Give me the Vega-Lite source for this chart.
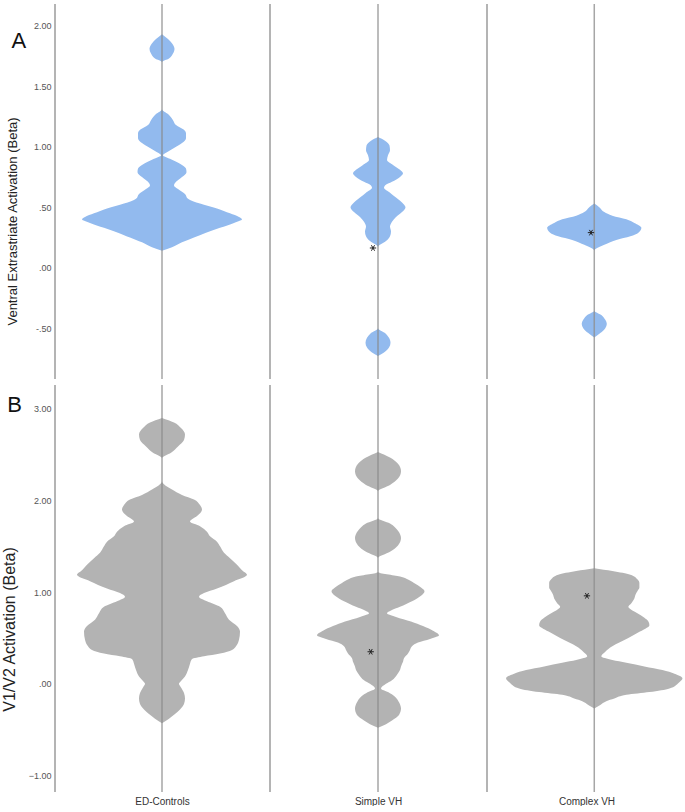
{
  "$schema": "https://vega.github.io/schema/vega-lite/v6.json",
  "padding": {"left": 1, "top": 3, "right": 0, "bottom": 0},
  "background": "white",
  "config": {
    "view": {"stroke": null},
    "font": "Liberation Sans",
    "axis": {"labelFont": "Liberation Sans", "labelFontSize": 9, "labelColor": "#555", "titleFont": "Liberation Sans", "titleFontSize": 12, "titleFontWeight": "normal", "titleColor": "#222", "grid": false, "ticks": false, "domain": false},
    "title": {"font": "Liberation Sans", "fontSize": 22, "fontWeight": "normal", "color": "#111"}
  },
  "datasets": {
    "aED": [
      {"beta": 1.93, "density": 0}, {"beta": 1.89, "density": 0.06}, {"beta": 1.85, "density": 0.105}, {"beta": 1.81, "density": 0.125}, {"beta": 1.77, "density": 0.11}, {"beta": 1.73, "density": 0.07}, {"beta": 1.70, "density": 0},
      {"beta": 1.31, "density": 0}, {"beta": 1.27, "density": 0.06}, {"beta": 1.22, "density": 0.11}, {"beta": 1.18, "density": 0.14}, {"beta": 1.14, "density": 0.22}, {"beta": 1.11, "density": 0.24}, {"beta": 1.07, "density": 0.24}, {"beta": 1.03, "density": 0.20}, {"beta": 0.99, "density": 0.12}, {"beta": 0.95, "density": 0.04}, {"beta": 0.93, "density": 0.01},
      {"beta": 0.90, "density": 0.08}, {"beta": 0.86, "density": 0.18}, {"beta": 0.82, "density": 0.24}, {"beta": 0.79, "density": 0.245}, {"beta": 0.75, "density": 0.20}, {"beta": 0.71, "density": 0.14}, {"beta": 0.68, "density": 0.12}, {"beta": 0.65, "density": 0.16}, {"beta": 0.61, "density": 0.23}, {"beta": 0.57, "density": 0.26}, {"beta": 0.53, "density": 0.38}, {"beta": 0.49, "density": 0.55}, {"beta": 0.45, "density": 0.68}, {"beta": 0.42, "density": 0.77}, {"beta": 0.40, "density": 0.80}, {"beta": 0.37, "density": 0.72}, {"beta": 0.33, "density": 0.58}, {"beta": 0.29, "density": 0.44}, {"beta": 0.25, "density": 0.32}, {"beta": 0.21, "density": 0.20}, {"beta": 0.17, "density": 0.10}, {"beta": 0.14, "density": 0}
    ],
    "aSimple": [
      {"beta": 1.08, "density": 0}, {"beta": 1.05, "density": 0.07}, {"beta": 1.01, "density": 0.115}, {"beta": 0.97, "density": 0.12}, {"beta": 0.93, "density": 0.10}, {"beta": 0.89, "density": 0.09}, {"beta": 0.85, "density": 0.15}, {"beta": 0.81, "density": 0.22}, {"beta": 0.78, "density": 0.25}, {"beta": 0.75, "density": 0.22}, {"beta": 0.71, "density": 0.14}, {"beta": 0.68, "density": 0.07}, {"beta": 0.66, "density": 0.06},
      {"beta": 0.62, "density": 0.12}, {"beta": 0.58, "density": 0.18}, {"beta": 0.54, "density": 0.24}, {"beta": 0.50, "density": 0.275}, {"beta": 0.46, "density": 0.24}, {"beta": 0.42, "density": 0.18}, {"beta": 0.38, "density": 0.14}, {"beta": 0.34, "density": 0.12}, {"beta": 0.30, "density": 0.13}, {"beta": 0.26, "density": 0.12}, {"beta": 0.22, "density": 0.08}, {"beta": 0.17, "density": 0},
      {"beta": -0.50, "density": 0}, {"beta": -0.54, "density": 0.07}, {"beta": -0.58, "density": 0.11}, {"beta": -0.62, "density": 0.125}, {"beta": -0.66, "density": 0.11}, {"beta": -0.70, "density": 0.06}, {"beta": -0.73, "density": 0}
    ],
    "aComplex": [
      {"beta": 0.53, "density": 0}, {"beta": 0.50, "density": 0.05}, {"beta": 0.46, "density": 0.10}, {"beta": 0.43, "density": 0.18}, {"beta": 0.40, "density": 0.32}, {"beta": 0.37, "density": 0.40}, {"beta": 0.33, "density": 0.47}, {"beta": 0.29, "density": 0.44}, {"beta": 0.26, "density": 0.36}, {"beta": 0.23, "density": 0.22}, {"beta": 0.19, "density": 0.10}, {"beta": 0.14, "density": 0},
      {"beta": -0.355, "density": 0}, {"beta": -0.39, "density": 0.07}, {"beta": -0.43, "density": 0.11}, {"beta": -0.465, "density": 0.125}, {"beta": -0.50, "density": 0.11}, {"beta": -0.54, "density": 0.06}, {"beta": -0.576, "density": 0}
    ],
    "bED": [
      {"beta": 2.90, "density": 0}, {"beta": 2.85, "density": 0.12}, {"beta": 2.79, "density": 0.19}, {"beta": 2.72, "density": 0.23}, {"beta": 2.66, "density": 0.22}, {"beta": 2.59, "density": 0.16}, {"beta": 2.52, "density": 0.09}, {"beta": 2.46, "density": 0},
      {"beta": 2.21, "density": 0}, {"beta": 2.12, "density": 0.10}, {"beta": 2.06, "density": 0.20}, {"beta": 2.01, "density": 0.32}, {"beta": 1.95, "density": 0.38}, {"beta": 1.90, "density": 0.40}, {"beta": 1.83, "density": 0.35}, {"beta": 1.77, "density": 0.28}, {"beta": 1.72, "density": 0.38}, {"beta": 1.66, "density": 0.45}, {"beta": 1.61, "density": 0.48}, {"beta": 1.55, "density": 0.55}, {"beta": 1.50, "density": 0.58}, {"beta": 1.43, "density": 0.62}, {"beta": 1.37, "density": 0.68}, {"beta": 1.30, "density": 0.75}, {"beta": 1.24, "density": 0.80}, {"beta": 1.19, "density": 0.85}, {"beta": 1.12, "density": 0.72}, {"beta": 1.04, "density": 0.55}, {"beta": 0.99, "density": 0.42}, {"beta": 0.95, "density": 0.37},
      {"beta": 0.90, "density": 0.45}, {"beta": 0.84, "density": 0.58}, {"beta": 0.77, "density": 0.63}, {"beta": 0.70, "density": 0.67}, {"beta": 0.63, "density": 0.75}, {"beta": 0.57, "density": 0.78}, {"beta": 0.48, "density": 0.77}, {"beta": 0.41, "density": 0.74}, {"beta": 0.37, "density": 0.70}, {"beta": 0.33, "density": 0.58}, {"beta": 0.30, "density": 0.42}, {"beta": 0.27, "density": 0.30}, {"beta": 0.22, "density": 0.28}, {"beta": 0.15, "density": 0.26}, {"beta": 0.08, "density": 0.23}, {"beta": 0.03, "density": 0.19}, {"beta": 0.00, "density": 0.17}, {"beta": -0.04, "density": 0.19}, {"beta": -0.10, "density": 0.22}, {"beta": -0.16, "density": 0.23}, {"beta": -0.22, "density": 0.22}, {"beta": -0.28, "density": 0.18}, {"beta": -0.33, "density": 0.13}, {"beta": -0.38, "density": 0.07}, {"beta": -0.43, "density": 0}
    ],
    "bSimple": [
      {"beta": 2.53, "density": 0}, {"beta": 2.47, "density": 0.12}, {"beta": 2.40, "density": 0.20}, {"beta": 2.32, "density": 0.23}, {"beta": 2.24, "density": 0.20}, {"beta": 2.17, "density": 0.12}, {"beta": 2.10, "density": 0},
      {"beta": 1.81, "density": 0}, {"beta": 1.75, "density": 0.12}, {"beta": 1.67, "density": 0.20}, {"beta": 1.59, "density": 0.23}, {"beta": 1.51, "density": 0.20}, {"beta": 1.44, "density": 0.12}, {"beta": 1.37, "density": 0},
      {"beta": 1.22, "density": 0}, {"beta": 1.17, "density": 0.22}, {"beta": 1.10, "density": 0.36}, {"beta": 1.05, "density": 0.43}, {"beta": 1.01, "density": 0.465}, {"beta": 0.96, "density": 0.43}, {"beta": 0.90, "density": 0.34}, {"beta": 0.84, "density": 0.22}, {"beta": 0.80, "density": 0.13}, {"beta": 0.77, "density": 0.09},
      {"beta": 0.73, "density": 0.18}, {"beta": 0.68, "density": 0.33}, {"beta": 0.63, "density": 0.45}, {"beta": 0.58, "density": 0.55}, {"beta": 0.53, "density": 0.61}, {"beta": 0.49, "density": 0.52}, {"beta": 0.45, "density": 0.40}, {"beta": 0.41, "density": 0.34}, {"beta": 0.37, "density": 0.32}, {"beta": 0.33, "density": 0.30}, {"beta": 0.28, "density": 0.26}, {"beta": 0.24, "density": 0.25}, {"beta": 0.19, "density": 0.23}, {"beta": 0.15, "density": 0.22}, {"beta": 0.10, "density": 0.19}, {"beta": 0.04, "density": 0.14}, {"beta": 0.00, "density": 0.08}, {"beta": -0.05, "density": 0.03},
      {"beta": -0.09, "density": 0.10}, {"beta": -0.14, "density": 0.17}, {"beta": -0.20, "density": 0.21}, {"beta": -0.27, "density": 0.23}, {"beta": -0.34, "density": 0.21}, {"beta": -0.40, "density": 0.14}, {"beta": -0.44, "density": 0.08}, {"beta": -0.48, "density": 0}
    ],
    "bComplex": [
      {"beta": 1.26, "density": 0}, {"beta": 1.23, "density": 0.18}, {"beta": 1.19, "density": 0.36}, {"beta": 1.14, "density": 0.43}, {"beta": 1.10, "density": 0.45}, {"beta": 1.05, "density": 0.45}, {"beta": 1.01, "density": 0.43}, {"beta": 0.97, "density": 0.41}, {"beta": 0.93, "density": 0.40}, {"beta": 0.88, "density": 0.37}, {"beta": 0.84, "density": 0.34}, {"beta": 0.80, "density": 0.38}, {"beta": 0.77, "density": 0.43}, {"beta": 0.72, "density": 0.50}, {"beta": 0.68, "density": 0.54}, {"beta": 0.64, "density": 0.55}, {"beta": 0.59, "density": 0.49}, {"beta": 0.55, "density": 0.42}, {"beta": 0.50, "density": 0.34}, {"beta": 0.45, "density": 0.25}, {"beta": 0.41, "density": 0.18}, {"beta": 0.35, "density": 0.11}, {"beta": 0.30, "density": 0.07},
      {"beta": 0.26, "density": 0.18}, {"beta": 0.23, "density": 0.32}, {"beta": 0.19, "density": 0.50}, {"beta": 0.15, "density": 0.68}, {"beta": 0.11, "density": 0.80}, {"beta": 0.06, "density": 0.88}, {"beta": 0.01, "density": 0.84}, {"beta": -0.05, "density": 0.75}, {"beta": -0.09, "density": 0.55}, {"beta": -0.12, "density": 0.32}, {"beta": -0.16, "density": 0.20}, {"beta": -0.19, "density": 0.12}, {"beta": -0.23, "density": 0.06}, {"beta": -0.27, "density": 0}
    ]
  },
  "vconcat": [
    {
      "title": {"text": "A", "anchor": "start", "frame": "bounds", "dx": 5, "dy": 50, "offset": 0},
      "spacing": 0,
      "hconcat": [
        {
          "width": 214, "height": 375,
          "layer": [
            {"data": {"name": "aED"}, "mark": {"type": "area", "orient": "horizontal", "interpolate": "monotone", "color": "#92baee"},
             "encoding": {"y": {"field": "beta", "type": "quantitative", "scale": {"domain": [-0.92, 2.18], "nice": false, "zero": false}, "axis": {"title": "Ventral Extrastriate Activation (Beta)", "values": [2, 1.5, 1, 0.5, 0, -0.5], "labelExpr": "datum.value == 0 ? '.00' : datum.value == 0.5 ? '.50' : datum.value == -0.5 ? '-.50' : format(datum.value, '.2f')", "labelPadding": 4, "titlePadding": 14, "titleFontSize": 13, "titleY": 217}},
                          "x": {"field": "density", "type": "quantitative", "scale": {"domain": [-1.07, 1.07]}, "axis": null}, "x2": {"datum": 0}}},
            {"data": {"name": "aED"}, "mark": {"type": "area", "orient": "horizontal", "interpolate": "monotone", "color": "#92baee"},
             "encoding": {"y": {"field": "beta", "type": "quantitative", "scale": {"domain": [-0.92, 2.18], "nice": false, "zero": false}, "axis": {"title": "Ventral Extrastriate Activation (Beta)", "values": [2, 1.5, 1, 0.5, 0, -0.5], "labelExpr": "datum.value == 0 ? '.00' : datum.value == 0.5 ? '.50' : datum.value == -0.5 ? '-.50' : format(datum.value, '.2f')", "labelPadding": 4, "titlePadding": 14, "titleFontSize": 13, "titleY": 217}},
                          "x": {"field": "density", "type": "quantitative", "scale": {"domain": [-1.07, 1.07], "reverse": true}, "axis": null}, "x2": {"datum": 0}}},
            {"data": {"values": [{}]}, "mark": {"type": "rule", "color": "#b4b4b4", "strokeWidth": 2}, "encoding": {"x": {"datum": -1.07, "type": "quantitative", "scale": {"domain": [-1.07, 1.07]}, "axis": null}}},
            {"data": {"values": [{}]}, "mark": {"type": "rule", "color": "#888888", "strokeWidth": 1.5, "opacity": 0.75}, "encoding": {"x": {"datum": 0, "type": "quantitative", "scale": {"domain": [-1.07, 1.07]}, "axis": null}}}
          ],
          "resolve": {"scale": {"x": "independent"}}
        },
        {
          "width": 216, "height": 375,
          "layer": [
            {"data": {"name": "aSimple"}, "mark": {"type": "area", "orient": "horizontal", "interpolate": "monotone", "color": "#92baee"},
             "encoding": {"y": {"field": "beta", "type": "quantitative", "scale": {"domain": [-0.92, 2.18], "nice": false, "zero": false}, "axis": null},
                          "x": {"field": "density", "type": "quantitative", "scale": {"domain": [-1.08, 1.08]}, "axis": null}, "x2": {"datum": 0}}},
            {"data": {"name": "aSimple"}, "mark": {"type": "area", "orient": "horizontal", "interpolate": "monotone", "color": "#92baee"},
             "encoding": {"y": {"field": "beta", "type": "quantitative", "scale": {"domain": [-0.92, 2.18], "nice": false, "zero": false}, "axis": null},
                          "x": {"field": "density", "type": "quantitative", "scale": {"domain": [-1.08, 1.08], "reverse": true}, "axis": null}, "x2": {"datum": 0}}},
            {"data": {"values": [{}]}, "mark": {"type": "rule", "color": "#b4b4b4", "strokeWidth": 2}, "encoding": {"x": {"datum": -1.08, "type": "quantitative", "scale": {"domain": [-1.08, 1.08]}, "axis": null}}},
            {"data": {"values": [{}]}, "mark": {"type": "rule", "color": "#888888", "strokeWidth": 1.5, "opacity": 0.75}, "encoding": {"x": {"datum": 0, "type": "quantitative", "scale": {"domain": [-1.08, 1.08]}, "axis": null}}},
            {"data": {"values": [{"beta": 0.163, "jitter": -0.05}]}, "mark": {"type": "point", "shape": "M-1,0L1,0M-0.5,-0.87L0.5,0.87M-0.5,0.87L0.5,-0.87", "filled": false, "stroke": "#222", "strokeWidth": 1, "size": 40, "opacity": 1},
             "encoding": {"y": {"field": "beta", "type": "quantitative", "scale": {"domain": [-0.92, 2.18], "nice": false, "zero": false}, "axis": null},
                          "x": {"field": "jitter", "type": "quantitative", "scale": {"domain": [-1.08, 1.08]}, "axis": null}}}
          ],
          "resolve": {"scale": {"x": "independent"}}
        },
        {
          "width": 199, "height": 375,
          "layer": [
            {"data": {"name": "aComplex"}, "mark": {"type": "area", "orient": "horizontal", "interpolate": "monotone", "color": "#92baee"},
             "encoding": {"y": {"field": "beta", "type": "quantitative", "scale": {"domain": [-0.92, 2.18], "nice": false, "zero": false}, "axis": null},
                          "x": {"field": "density", "type": "quantitative", "scale": {"domain": [-1.07, 0.915]}, "axis": null}, "x2": {"datum": 0}}},
            {"data": {"name": "aComplex"}, "mark": {"type": "area", "orient": "horizontal", "interpolate": "monotone", "color": "#92baee"},
             "encoding": {"y": {"field": "beta", "type": "quantitative", "scale": {"domain": [-0.92, 2.18], "nice": false, "zero": false}, "axis": null},
                          "x": {"field": "density", "type": "quantitative", "scale": {"domain": [-0.915, 1.07], "reverse": true}, "axis": null}, "x2": {"datum": 0}}},
            {"data": {"values": [{}]}, "mark": {"type": "rule", "color": "#b4b4b4", "strokeWidth": 2}, "encoding": {"x": {"datum": -1.07, "type": "quantitative", "scale": {"domain": [-1.07, 0.915]}, "axis": null}}},
            {"data": {"values": [{}]}, "mark": {"type": "rule", "color": "#888888", "strokeWidth": 1.5, "opacity": 0.75}, "encoding": {"x": {"datum": 0, "type": "quantitative", "scale": {"domain": [-1.07, 0.915]}, "axis": null}}},
            {"data": {"values": [{"beta": 0.29, "jitter": -0.033}]}, "mark": {"type": "point", "shape": "M-1,0L1,0M-0.5,-0.87L0.5,0.87M-0.5,0.87L0.5,-0.87", "filled": false, "stroke": "#222", "strokeWidth": 1, "size": 40, "opacity": 1},
             "encoding": {"y": {"field": "beta", "type": "quantitative", "scale": {"domain": [-0.92, 2.18], "nice": false, "zero": false}, "axis": null},
                          "x": {"field": "jitter", "type": "quantitative", "scale": {"domain": [-1.07, 0.915]}, "axis": null}}}
          ],
          "resolve": {"scale": {"x": "independent"}}
        }
      ]
    },
    {
      "title": {"text": "B", "anchor": "start", "frame": "bounds", "dx": 6, "dy": 33, "offset": 0},
      "spacing": 0,
      "hconcat": [
        {
          "width": 214, "height": 407,
          "layer": [
            {"data": {"name": "bED"}, "mark": {"type": "area", "orient": "horizontal", "interpolate": "monotone", "color": "#b3b3b3"},
             "encoding": {"y": {"field": "beta", "type": "quantitative", "scale": {"domain": [-1.18, 3.26], "nice": false, "zero": false}, "axis": {"title": "V1/V2 Activation (Beta)", "values": [3, 2, 1, 0, -1], "labelExpr": "datum.value == 0 ? '.00' : format(datum.value, '.2f')", "labelPadding": 4, "titlePadding": 11, "titleFontSize": 16, "titleY": 244}},
                          "x": {"field": "density", "type": "quantitative", "scale": {"domain": [-1.07, 1.07]}, "axis": null}, "x2": {"datum": 0}}},
            {"data": {"name": "bED"}, "mark": {"type": "area", "orient": "horizontal", "interpolate": "monotone", "color": "#b3b3b3"},
             "encoding": {"y": {"field": "beta", "type": "quantitative", "scale": {"domain": [-1.18, 3.26], "nice": false, "zero": false}, "axis": {"title": "V1/V2 Activation (Beta)", "values": [3, 2, 1, 0, -1], "labelExpr": "datum.value == 0 ? '.00' : format(datum.value, '.2f')", "labelPadding": 4, "titlePadding": 11, "titleFontSize": 16, "titleY": 244}},
                          "x": {"field": "density", "type": "quantitative", "scale": {"domain": [-1.07, 1.07], "reverse": true}, "axis": null}, "x2": {"datum": 0}}},
            {"data": {"values": [{}]}, "mark": {"type": "rule", "color": "#b4b4b4", "strokeWidth": 2}, "encoding": {"x": {"datum": -1.07, "type": "quantitative", "scale": {"domain": [-1.07, 1.07]}, "axis": null}}},
            {"data": {"values": [{}]}, "mark": {"type": "rule", "color": "#888888", "strokeWidth": 1.5, "opacity": 0.75}, "encoding": {"x": {"datum": 0, "type": "quantitative", "scale": {"domain": [-1.07, 1.07]}, "axis": {"title": "ED-Controls", "labels": false, "titleFontSize": 10, "titleColor": "#333", "titlePadding": 4}}}}
          ],
          "resolve": {"scale": {"x": "independent"}}
        },
        {
          "width": 216, "height": 407,
          "layer": [
            {"data": {"name": "bSimple"}, "mark": {"type": "area", "orient": "horizontal", "interpolate": "monotone", "color": "#b3b3b3"},
             "encoding": {"y": {"field": "beta", "type": "quantitative", "scale": {"domain": [-1.18, 3.26], "nice": false, "zero": false}, "axis": null},
                          "x": {"field": "density", "type": "quantitative", "scale": {"domain": [-1.08, 1.08]}, "axis": null}, "x2": {"datum": 0}}},
            {"data": {"name": "bSimple"}, "mark": {"type": "area", "orient": "horizontal", "interpolate": "monotone", "color": "#b3b3b3"},
             "encoding": {"y": {"field": "beta", "type": "quantitative", "scale": {"domain": [-1.18, 3.26], "nice": false, "zero": false}, "axis": null},
                          "x": {"field": "density", "type": "quantitative", "scale": {"domain": [-1.08, 1.08], "reverse": true}, "axis": null}, "x2": {"datum": 0}}},
            {"data": {"values": [{}]}, "mark": {"type": "rule", "color": "#b4b4b4", "strokeWidth": 2}, "encoding": {"x": {"datum": -1.08, "type": "quantitative", "scale": {"domain": [-1.08, 1.08]}, "axis": null}}},
            {"data": {"values": [{}]}, "mark": {"type": "rule", "color": "#888888", "strokeWidth": 1.5, "opacity": 0.75}, "encoding": {"x": {"datum": 0, "type": "quantitative", "scale": {"domain": [-1.08, 1.08]}, "axis": {"title": "Simple VH", "labels": false, "titleFontSize": 10, "titleColor": "#333", "titlePadding": 4}}}},
            {"data": {"values": [{"beta": 0.35, "jitter": -0.073}]}, "mark": {"type": "point", "shape": "M-1,0L1,0M-0.5,-0.87L0.5,0.87M-0.5,0.87L0.5,-0.87", "filled": false, "stroke": "#222", "strokeWidth": 1, "size": 40, "opacity": 1},
             "encoding": {"y": {"field": "beta", "type": "quantitative", "scale": {"domain": [-1.18, 3.26], "nice": false, "zero": false}, "axis": null},
                          "x": {"field": "jitter", "type": "quantitative", "scale": {"domain": [-1.08, 1.08]}, "axis": null}}}
          ],
          "resolve": {"scale": {"x": "independent"}}
        },
        {
          "width": 199, "height": 407,
          "layer": [
            {"data": {"name": "bComplex"}, "mark": {"type": "area", "orient": "horizontal", "interpolate": "monotone", "color": "#b3b3b3"},
             "encoding": {"y": {"field": "beta", "type": "quantitative", "scale": {"domain": [-1.18, 3.26], "nice": false, "zero": false}, "axis": null},
                          "x": {"field": "density", "type": "quantitative", "scale": {"domain": [-1.07, 0.915]}, "axis": null}, "x2": {"datum": 0}}},
            {"data": {"name": "bComplex"}, "mark": {"type": "area", "orient": "horizontal", "interpolate": "monotone", "color": "#b3b3b3"},
             "encoding": {"y": {"field": "beta", "type": "quantitative", "scale": {"domain": [-1.18, 3.26], "nice": false, "zero": false}, "axis": null},
                          "x": {"field": "density", "type": "quantitative", "scale": {"domain": [-0.915, 1.07], "reverse": true}, "axis": null}, "x2": {"datum": 0}}},
            {"data": {"values": [{}]}, "mark": {"type": "rule", "color": "#b4b4b4", "strokeWidth": 2}, "encoding": {"x": {"datum": -1.07, "type": "quantitative", "scale": {"domain": [-1.07, 0.915]}, "axis": null}}},
            {"data": {"values": [{}]}, "mark": {"type": "rule", "color": "#888888", "strokeWidth": 1.5, "opacity": 0.75}, "encoding": {"x": {"datum": 0, "type": "quantitative", "scale": {"domain": [-1.07, 0.915]}, "axis": {"title": "Complex VH", "labels": false, "titleFontSize": 10, "titleColor": "#333", "titlePadding": 4}}}},
            {"data": {"values": [{"beta": 0.96, "jitter": -0.073}]}, "mark": {"type": "point", "shape": "M-1,0L1,0M-0.5,-0.87L0.5,0.87M-0.5,0.87L0.5,-0.87", "filled": false, "stroke": "#222", "strokeWidth": 1, "size": 40, "opacity": 1},
             "encoding": {"y": {"field": "beta", "type": "quantitative", "scale": {"domain": [-1.18, 3.26], "nice": false, "zero": false}, "axis": null},
                          "x": {"field": "jitter", "type": "quantitative", "scale": {"domain": [-1.07, 0.915]}, "axis": null}}}
          ],
          "resolve": {"scale": {"x": "independent"}}
        }
      ]
    }
  ],
  "spacing": 4
}
